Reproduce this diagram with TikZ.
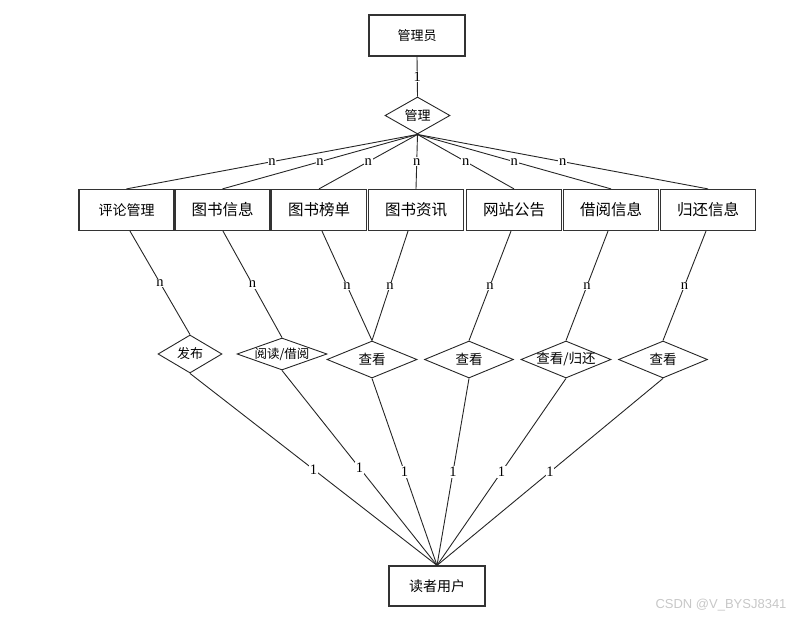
\documentclass[tikz,border=0pt]{standalone}
\usepackage{fontspec}
\setmainfont{Liberation Serif}
\newfontfamily\cjk{Noto Sans CJK SC}
\newfontfamily\wmfont{Liberation Sans}
\usetikzlibrary{shapes.geometric,calc}
\begin{document}
\begin{tikzpicture}[x=1pt,y=-1pt,
  ent/.style={draw=black!80,line width=1.2pt,rectangle,minimum width=95pt,minimum height=41pt,inner sep=0pt,font=\cjk\fontsize{15.5}{15.5}\selectfont},
  rel/.style={draw=black!85,line width=0.9pt,diamond,inner sep=0pt,font=\cjk\fontsize{13.5}{13.5}\selectfont},
  conn/.style={draw=black!85,line width=0.9pt},
  lab/.style={fill=white,inner sep=0.8pt,font=\fontsize{14.5}{14.5}\selectfont}]
\useasboundingbox (0,0) rectangle (809,620);
% admin
\node[ent,minimum width=96pt,font=\cjk\fontsize{13}{13}\selectfont] (admin) at (417,35.5) {管理员};
\node[rel,minimum width=65pt,minimum height=37pt,font=\cjk\fontsize{13}{13}\selectfont] (manage) at (417.5,115.5) {\makebox[0pt]{管理}};
\draw[conn] (admin.south) -- (manage.north) node[lab,midway]{1};
% entities
\node[ent,font=\cjk\fontsize{14}{14}\selectfont] (e1) at (126.5,210) {评论管理};
\node[ent] (e2) at (222.5,210) {图书信息};
\node[ent] (e3) at (319,210) {图书榜单};
\node[ent] (e4) at (416,210) {图书资讯};
\node[ent] (e5) at (514,210) {网站公告};
\node[ent] (e6) at (611,210) {借阅信息};
\node[ent] (e7) at (708,210) {归还信息};
\foreach \e in {e1,e2,e3,e4,e5,e6,e7}{
  \draw[conn] (manage.south) -- (\e.north) node[lab,midway]{n};
}
% relations
\node[rel,minimum width=64pt,minimum height=38pt,font=\cjk\fontsize{13}{13}\selectfont] (r1) at (190,354) {\makebox[0pt]{发布}};
\node[rel,minimum width=90pt,minimum height=32pt,font=\cjk\fontsize{12.5}{12.5}\selectfont] (r2) at (282,354) {\makebox[0pt]{阅读/借阅}};
\node[rel,minimum width=90pt,minimum height=37pt] (r3) at (372,359.5) {\makebox[0pt]{查看}};
\node[rel,minimum width=89pt,minimum height=37pt] (r4) at (469,359.5) {\makebox[0pt]{查看}};
\node[rel,minimum width=90pt,minimum height=37pt] (r5) at (566,359.5) {\makebox[0pt]{查看/归还}};
\node[rel,minimum width=89pt,minimum height=37pt] (r6) at (663,359.5) {\makebox[0pt]{查看}};
\draw[conn] ($(e1.south)+(3.5,0)$) -- (r1.north) node[lab,midway]{n};
\draw[conn] ($(e2.south)+(0.5,0)$) -- (r2.north) node[lab,midway]{n};
\draw[conn] ($(e3.south)+(3,0)$) -- (r3.north) node[lab,midway]{n};
\draw[conn] ($(e4.south)+(-8,0)$) -- (r3.north) node[lab,midway]{n};
\draw[conn] ($(e5.south)+(-3,0)$) -- (r4.north) node[lab,midway]{n};
\draw[conn] ($(e6.south)+(-3,0)$) -- (r5.north) node[lab,midway]{n};
\draw[conn] ($(e7.south)+(-2,0)$) -- (r6.north) node[lab,midway]{n};
% user
\node[ent,minimum width=96pt,minimum height=40pt,font=\cjk\fontsize{14}{14}\selectfont] (user) at (437,586) {读者用户};
\foreach \r in {r1,r2,r3,r4,r5,r6}{
  \draw[conn] (\r.south) -- (user.north) node[lab,midway]{1};
}
% watermark
\node[text=black!22,font=\wmfont\fontsize{13}{13}\selectfont,inner sep=0pt] (wm) at (721,605) {CSDN @V\_BYSJ8341};
\end{tikzpicture}
\end{document}
